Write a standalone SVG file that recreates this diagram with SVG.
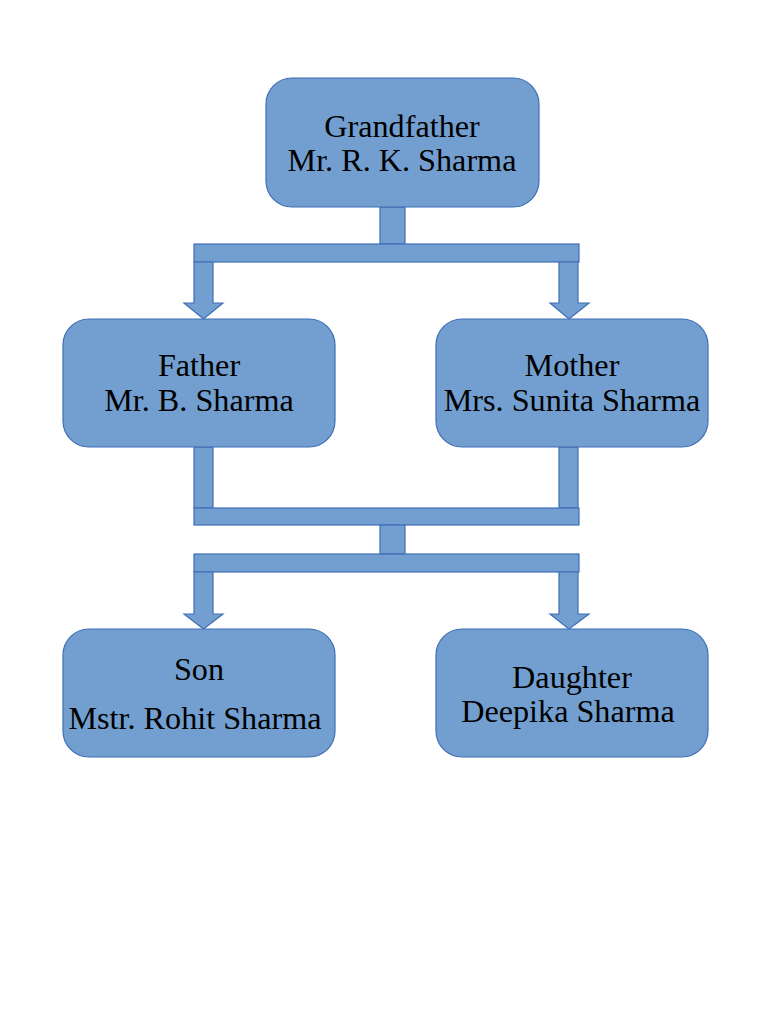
<svg xmlns="http://www.w3.org/2000/svg" width="768" height="1024" viewBox="0 0 768 1024">
<style>
.box{fill:#729fcf;stroke:#3f6fb6;stroke-width:1.2}
.con{fill:#729fcf;stroke:#3f6fb6;stroke-width:1.2}
text{font-family:"Liberation Serif","Times New Roman",serif;font-size:32.2px;fill:#000;text-anchor:middle}
</style>
<rect width="768" height="1024" fill="#fff"/>
<g id="connectors">
<rect class="con" x="380" y="207" width="25" height="37"/>
<rect class="con" x="194" y="244" width="385" height="18"/>
<path class="con" d="M194,262 H213 V303 H223 L203.5,319 L184,303 H194 Z"/>
<path class="con" d="M559,262 H578 V303 H589 L569,319 L550,303 H559 Z"/>
<rect class="con" x="194" y="447" width="19" height="61"/>
<rect class="con" x="559" y="447" width="19" height="61"/>
<rect class="con" x="194" y="508" width="385" height="17"/>
<rect class="con" x="380" y="525" width="25" height="29"/>
<rect class="con" x="194" y="554" width="385" height="18"/>
<path class="con" d="M194,572 H213 V614 H223 L203.5,629 L184,614 H194 Z"/>
<path class="con" d="M559,572 H578 V614 H589 L569,629 L550,614 H559 Z"/>
</g>
<g id="grandfather">
<rect class="box" x="266" y="78" width="273" height="129" rx="26"/>
<text x="402" y="137">Grandfather</text>
<text x="402" y="171">Mr. R. K. Sharma</text>
</g>
<g id="father">
<rect class="box" x="63" y="319" width="272" height="128" rx="26"/>
<text x="199" y="376">Father</text>
<text x="199" y="411">Mr. B. Sharma</text>
</g>
<g id="mother">
<rect class="box" x="436" y="319" width="272" height="128" rx="26"/>
<text x="572" y="376">Mother</text>
<text x="572" y="411">Mrs. Sunita Sharma</text>
</g>
<g id="son">
<rect class="box" x="63" y="629" width="272" height="128" rx="26"/>
<text x="199" y="680">Son</text>
<text x="195" y="729">Mstr. Rohit Sharma</text>
</g>
<g id="daughter">
<rect class="box" x="436" y="629" width="272" height="128" rx="26"/>
<text x="572" y="688">Daughter</text>
<text x="568" y="722">Deepika Sharma</text>
</g>
</svg>
